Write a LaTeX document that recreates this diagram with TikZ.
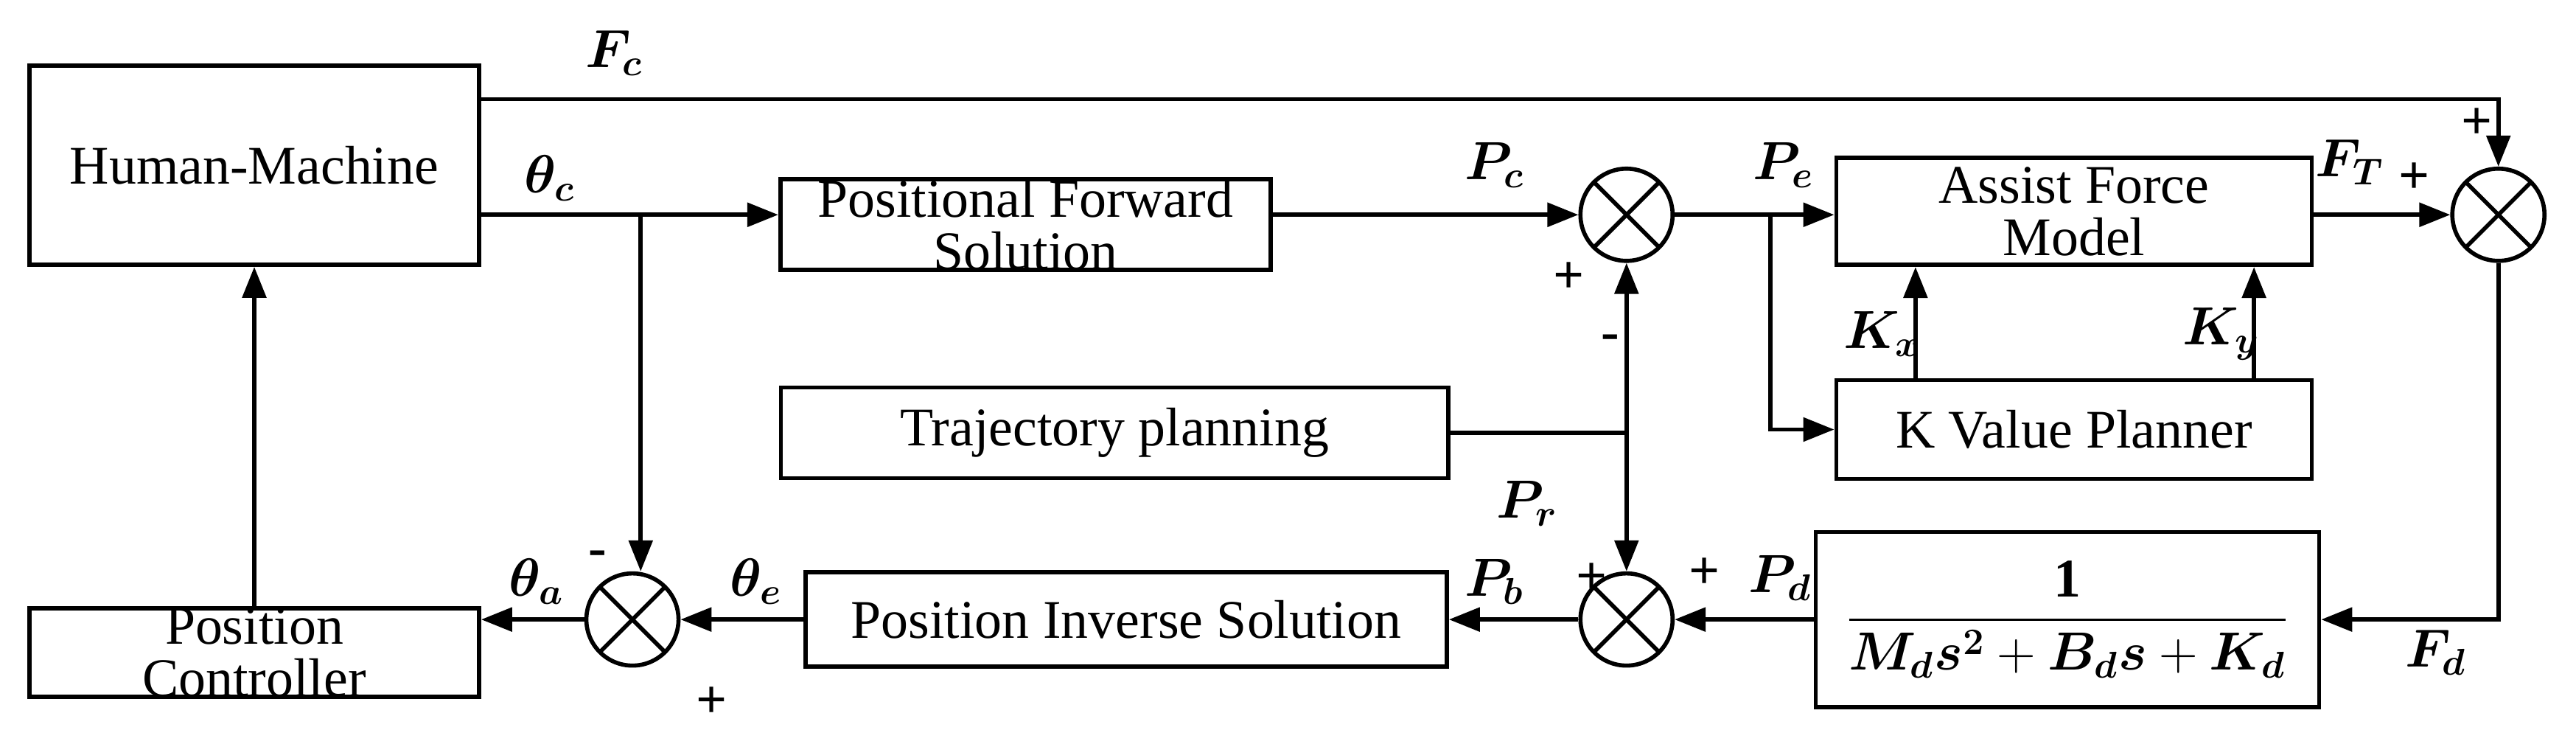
\documentclass[tikz,border=0pt]{standalone}
\usepackage{amsmath,bm}
\usepackage{fontspec}
\setmainfont{Liberation Serif}
\usetikzlibrary{arrows.meta, positioning, calc}

\begin{document}
\begin{tikzpicture}[x=0.0224cm, y=-0.0224cm, line width=1.6pt,
    font=\fontsize{21}{24}\selectfont,
    >={Triangle[length=0.42cm, width=0.32cm]},
    blk/.style = {draw, rectangle, inner sep=0pt, align=center},
    sum/.style = {draw, circle, minimum size=1.25cm, inner sep=0pt,
        path picture={\draw (path picture bounding box.north west) -- (path picture bounding box.south east)
                            (path picture bounding box.north east) -- (path picture bounding box.south west);}},
    lbl/.style = {font=\fontsize{21}{24}\selectfont\bfseries}]

    \useasboundingbox (0,0) rectangle (1560,450);

    % blocks
    \node (hm)  [blk, minimum width=6.1cm, minimum height=2.7cm] at (154,100) {Human-Machine};
    \node (pc)  [blk, minimum width=6.1cm, minimum height=1.12cm] at (154,395) {Position\\[-4pt]Controller};
    \node (pfs) [blk, minimum width=6.65cm, minimum height=1.23cm] at (621,136) {Positional Forward\\[-4pt]Solution};
    \node (tp)  [blk, minimum width=9.05cm, minimum height=1.23cm] at (675,262) {Trajectory planning};
    \node (pis) [blk, minimum width=8.7cm, minimum height=1.28cm] at (682,375) {Position Inverse Solution};
    \node (afm) [blk, minimum width=6.45cm, minimum height=1.45cm] at (1256,128) {Assist Force\\[-4pt]Model};
    \node (kvp) [blk, minimum width=6.45cm, minimum height=1.34cm] at (1256,260) {K Value Planner};
    \node (tf)  [blk, minimum width=6.83cm, minimum height=2.37cm] at (1252,375)
        {$\dfrac{\mathbf{1}}{\bm{M_d s^2} + \bm{B_d s} + \bm{K_d}}$};

    % summing junctions
    \node (s1) [sum] at (985,130) {};
    \node (s2) [sum] at (1513,130) {};
    \node (s3) [sum] at (985,375) {};
    \node (s4) [sum] at (383,375) {};

    % helper points
    \coordinate (fc) at (hm.east |- 0,60);
    \coordinate (thc) at (hm.east |- 0,130);
    \coordinate (br1) at (388,130);
    \coordinate (tpr) at (s1.south |- tp.east);
    \coordinate (br2) at (1072,130);
    \coordinate (br3) at (1072,260);
    \coordinate (fd) at (s2.south |- tf.east);

    % connections
    \draw[->] (fc) -| (s2.north);
    \draw[->] (thc) -- (thc -| pfs.west);
    \draw[->] (br1) -- (s4.north -| br1);
    \draw[->] (pfs.east |- s1.west) -- (s1.west);
    \draw (tp.east) -- (tpr);
    \draw[->] (tpr) -- (s1.south);
    \draw[->] (tpr) -- (s3.north);
    \draw[->] (s1.east) -- (afm.west |- s1.east);
    \draw[->] (br2) -- (br3) -- (kvp.west);
    \draw[->] (kvp.north -| 1160,0) -- (afm.south -| 1160,0);
    \draw[->] (kvp.north -| 1365,0) -- (afm.south -| 1365,0);
    \draw[->] (afm.east |- s2.west) -- (s2.west);
    \draw[->] (s2.south) -- (fd) -- (tf.east);
    \draw[->] (tf.west) -- (s3.east);
    \draw[->] (s3.west) -- (pis.east);
    \draw[->] (pis.west) -- (s4.east);
    \draw[->] (s4.west) -- (pc.east |- s4.west);
    \draw[->] (pc.north) -- (hm.south);

    % labels
    \node[lbl] at (372,32) {$\bm{F_c}$};
    \node[lbl] at (333,108) {$\bm{\theta_c}$};
    \node[lbl] at (905,100) {$\bm{P_c}$};
    \node[lbl] at (1080,100) {$\bm{P_e}$};
    \node[lbl] at (1423,98) {$\bm{F_T}$};
    \node[lbl] at (1140,202) {$\bm{K_x}$};
    \node[lbl] at (1345,202) {$\bm{K_y}$};
    \node[lbl] at (925,305) {$\bm{P_r}$};
    \node[lbl] at (1475,395) {$\bm{F_d}$};
    \node[lbl] at (1078,350) {$\bm{P_d}$};
    \node[lbl] at (905,352) {$\bm{P_b}$};
    \node[lbl] at (458,352) {$\bm{\theta_e}$};
    \node[lbl] at (325,352) {$\bm{\theta_a}$};
    \node[lbl] at (1500,75) {+};
    \node[lbl] at (1462,108) {+};
    \node[lbl] at (950,168) {+};
    \node[lbl] at (975,207) {-};
    \node[lbl] at (964,350) {+};
    \node[lbl] at (1032,347) {+};
    \node[lbl] at (362,338) {-};
    \node[lbl] at (431,425) {+};
\end{tikzpicture}
\end{document}
